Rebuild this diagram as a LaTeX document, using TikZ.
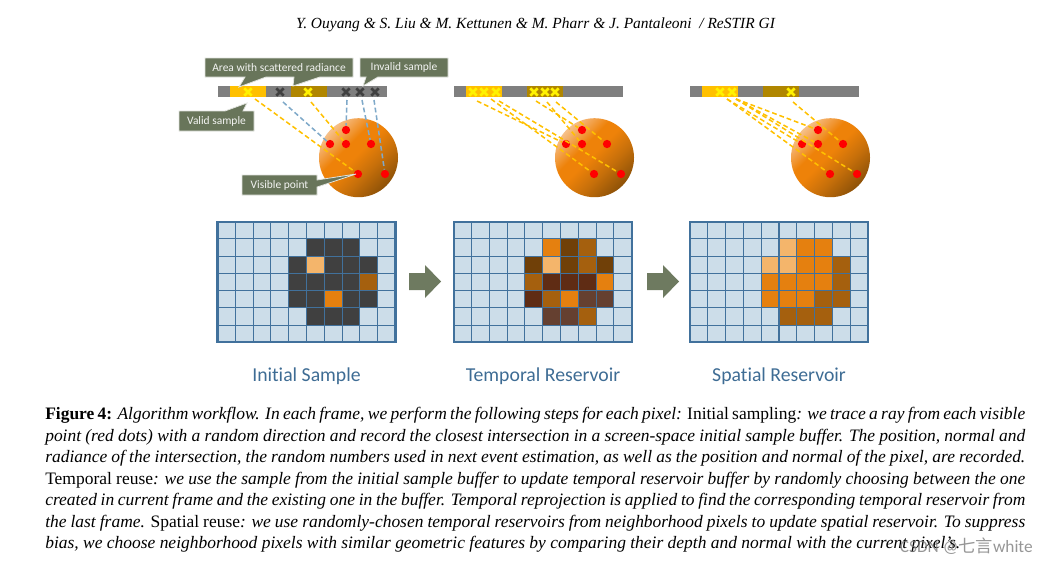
\documentclass[tikz,border=0pt]{standalone}
\usepackage{fontspec}
\setmainfont{Liberation Serif}
\newfontfamily\labelfont[Ligatures=NoCommon]{Carlito}
\newfontfamily\cjkfont{Noto Sans CJK SC}
\usetikzlibrary{shapes.misc}
\definecolor{calloutgreen}{RGB}{104,117,90}
\definecolor{arrowgreen}{RGB}{110,122,96}
\definecolor{barfill}{RGB}{127,127,127}
\definecolor{validgold}{RGB}{255,192,0}
\definecolor{scattergold}{RGB}{176,134,0}
\definecolor{raygold}{RGB}{255,192,0}
\definecolor{rayblue}{RGB}{127,169,201}
\definecolor{cellblue}{RGB}{204,221,233}
\definecolor{gridblue}{RGB}{65,113,156}
\definecolor{labelblue}{RGB}{62,108,148}
\definecolor{balllight}{RGB}{246,192,138}
\definecolor{ballmid}{RGB}{238,130,9}
\definecolor{ballshadow}{RGB}{200,112,10}
\definecolor{balldark}{RGB}{142,82,8}
\definecolor{cdark}{RGB}{64,64,64}
\definecolor{clight}{RGB}{244,181,107}
\definecolor{corange}{RGB}{229,128,15}
\definecolor{cbrown}{RGB}{165,96,14}
\definecolor{cumber}{RGB}{112,64,8}
\definecolor{cmaroon}{RGB}{95,44,20}
\definecolor{cmocha}{RGB}{101,64,48}
\pgfdeclareverticalshading{ballshade}{100bp}{color(0bp)=(balldark); color(25bp)=(balldark); color(40bp)=(ballshadow); color(52bp)=(ballmid); color(60bp)=(ballmid); color(75bp)=(balllight); color(100bp)=(balllight)}
\tikzset{
  calloutshape/.style={fill=calloutgreen,draw=white!80!calloutgreen,line width=0.6pt},
  callouttext/.style={inner sep=0pt,text=white!92!calloutgreen,font=\labelfont\fontsize{8.6}{10}\selectfont},
  reddot/.style={circle,fill=red,inner sep=0pt,minimum size=6.2pt},
  validcross/.style={cross out,draw=yellow,line width=1.9pt,inner sep=0pt,minimum size=3.6pt},
  invalidcross/.style={cross out,draw=cdark,line width=1.9pt,inner sep=0pt,minimum size=3.6pt},
  goldray/.style={draw=raygold,line width=1.15pt,dash pattern=on 3.6pt off 2.2pt},
  blueray/.style={draw=rayblue,line width=1.15pt,dash pattern=on 3.6pt off 2.2pt},
  panellabel/.style={inner sep=0pt,text=labelblue,font=\labelfont\fontsize{14.8}{16}\selectfont},
  captionline/.style={anchor=west,inner sep=0pt,font=\fontsize{13.1}{15}\selectfont},
}
\newcommand{\capline}[1]{\makebox[735pt][s]{#1}}
\begin{document}
\begin{tikzpicture}[x=0.75pt,y=0.75pt,yscale=-1,xscale=1]
	\useasboundingbox (0,0) rectangle (1048,564);

	% Text Node
	\node[inner sep=0pt,font=\itshape\fontsize{11.6}{13}\selectfont] (pagehead) at (535.5,25) {Y. Ouyang \& S. Liu \& M. Kettunen \& M. Pharr \& J. Pantaleoni \ / ReSTIR GI};

	% Balls and visible points
	\foreach \n/\dx in {a/0,b/236,c/472}{
		\begin{scope}[shift={(\dx,0)}]
			\shade[shading=ballshade,shading angle=45] (358.5,157.7) circle [radius=39.5];
			\node[reddot] (p\n1) at (346,130) {};
			\node[reddot] (p\n2) at (330,144) {};
			\node[reddot] (p\n3) at (346,144) {};
			\node[reddot] (p\n4) at (371,144) {};
			\node[reddot] (p\n5) at (358,174) {};
			\node[reddot] (p\n6) at (385,174) {};
			%Sample bar
			\fill[barfill] (218,86) rectangle (387,97);
		\end{scope}
	}

	%Bar areas
	\fill[validgold] (230,86) rectangle (266,97);
	\fill[scattergold] (291,86) rectangle (327,97);
	\fill[validgold] (466,86) rectangle (502,97);
	\fill[scattergold] (527,86) rectangle (563,97);
	\fill[validgold] (702,86) rectangle (738,97);
	\fill[scattergold] (763,86) rectangle (799,97);

	%Sample crosses
	\node[validcross] (xa1) at (248,92) {};
	\node[invalidcross] (xa2) at (280,92) {};
	\node[validcross] (xa3) at (308,92) {};
	\node[invalidcross] (xa4) at (346,92) {};
	\node[invalidcross] (xa5) at (360,92) {};
	\node[invalidcross] (xa6) at (375,92) {};
	\foreach \k/\cx in {1/473,2/484,3/496,4/534,5/545,6/555}
		\node[validcross] (xb\k) at (\cx,92) {};
	\foreach \k/\cx in {1/720,2/732,3/791}
		\node[validcross] (xc\k) at (\cx,92) {};

	%Ray starts
	\coordinate (ra1) at (255,99);
	\coordinate (ra2) at (283,102);
	\coordinate (ra3) at (311,102);
	\coordinate (ra4) at (347,100);
	\coordinate (ra5) at (362,100);
	\coordinate (ra6) at (374,100);
	\coordinate (rb1) at (477,101);
	\coordinate (rb2) at (491,99);
	\coordinate (rb3) at (499,101);
	\coordinate (rb4) at (536,101);
	\coordinate (rb5) at (547,102);
	\coordinate (rb6) at (556,102);
	\coordinate (rc1) at (727,99);
	\coordinate (rc2) at (736,99);
	\coordinate (rc3) at (793,102);

	%Rays, first panel
	\draw[goldray] (ra1) -- (pa5);
	\draw[blueray] (ra2) -- (pa2);
	\draw[goldray] (ra3) -- (pa3);
	\draw[blueray] (ra4) -- (pa1);
	\draw[blueray] (ra5) -- (pa4);
	\draw[blueray] (ra6) -- (pa6);
	%Rays, second panel
	\draw[goldray] (rb1) -- (pb2);
	\draw[goldray] (rb2) -- (pb5);
	\draw[goldray] (rb3) -- (pb6);
	\draw[goldray] (rb4) -- (pb1);
	\draw[goldray] (rb5) -- (pb3);
	\draw[goldray] (rb6) -- (pb4);
	%Rays, third panel
	\draw[goldray] (rc1) -- (pc2);
	\draw[goldray] (rc1) -- (pc5);
	\draw[goldray] (rc2) -- (pc1);
	\draw[goldray] (rc2) -- (pc3);
	\draw[goldray] (rc2) -- (pc6);
	\draw[goldray] (rc3) -- (pc4);

	%Callouts
	\draw[calloutshape] (205,58) -- (353,58) -- (353,77) -- (320,77) -- (293,86) -- (294,77) -- (266,77) -- (239,87) -- (245,77) -- (205,77) -- cycle;
	\node[callouttext] (areabox) at (279,67.5) {Area with scattered radiance};
	\draw[calloutshape] (360,58) -- (448,58) -- (448,77) -- (378,77) -- (363,86) -- (366,77) -- (360,77) -- cycle;
	\node[callouttext] (invalidbox) at (404,67.5) {Invalid sample};
	\draw[calloutshape] (179,111) -- (225,111) -- (247,103) -- (243,111) -- (254,111) -- (254,131) -- (179,131) -- cycle;
	\node[callouttext] (validbox) at (216.5,121) {Valid sample};
	\draw[calloutshape] (242,175) -- (317,175) -- (317,180) -- (356,174) -- (317,187) -- (317,195) -- (242,195) -- cycle;
	\node[callouttext] (visiblebox) at (279.5,185) {Visible point};

	% Pixel grids
	\foreach \dx/\cells in {
		217.5/{5/1/cdark,6/1/cdark,7/1/cdark,4/2/cdark,5/2/clight,6/2/cdark,7/2/cdark,8/2/cdark,4/3/cdark,5/3/cdark,6/3/cdark,7/3/cdark,8/3/cbrown,4/4/cdark,5/4/cdark,6/4/corange,7/4/cdark,8/4/cdark,5/5/cdark,6/5/cdark,7/5/cdark},
		453.7/{5/1/corange,6/1/cumber,7/1/cbrown,4/2/cumber,5/2/clight,6/2/cumber,7/2/cbrown,8/2/cumber,4/3/cbrown,5/3/cmaroon,6/3/cmaroon,7/3/cmaroon,8/3/corange,4/4/cmaroon,5/4/cbrown,6/4/corange,7/4/cmocha,8/4/cmocha,5/5/cmocha,6/5/cmocha,7/5/cbrown},
		690/{5/1/clight,6/1/corange,7/1/corange,4/2/clight,5/2/clight,6/2/corange,7/2/corange,8/2/cbrown,4/3/corange,5/3/corange,6/3/corange,7/3/corange,8/3/cbrown,4/4/corange,5/4/corange,6/4/corange,7/4/cbrown,8/4/cbrown,5/5/cbrown,6/5/cbrown,7/5/cbrown}}{
		\begin{scope}[shift={(\dx,221.7)}]
			\fill[cellblue] (0,0) rectangle (178,120.6);
			\foreach \c/\r/\k in \cells
				\fill[\k] ({17.8*\c},{17.23*\r}) rectangle +(17.8,17.23);
			\foreach \c in {1,...,9}
				\draw[gridblue,line width=0.8pt] ({17.8*\c},0) -- ({17.8*\c},120.6);
			\foreach \r in {1,...,6}
				\draw[gridblue,line width=0.8pt] (0,{17.23*\r}) -- (178,{17.23*\r});
			\draw[gridblue,line width=1.6pt] (0,0) rectangle (178,120.6);
		\end{scope}
	}

	%Arrows between grids
	\fill[arrowgreen] (409,273) -- (425,273) -- (425,265) -- (441,281.5) -- (425,298) -- (425,290) -- (409,290) -- cycle;
	\fill[arrowgreen] (647,273) -- (663,273) -- (663,265) -- (679,281.5) -- (663,298) -- (663,290) -- (647,290) -- cycle;

	% Text Node
	\node[panellabel] (initiallabel) at (306.5,376) {Initial Sample};
	\node[panellabel] (temporallabel) at (543,376) {Temporal Reservoir};
	\node[panellabel] (spatiallabel) at (779,376) {Spatial Reservoir};

	% Caption lines
	\node[captionline] (cap1) at (45,415.5) {\capline{\textbf{Figure 4:} \textit{Algorithm workflow. In each frame, we perform the following steps for each pixel:} Initial sampling\textit{: we trace a ray from each visible}}};
	\node[captionline] (cap2) at (45,437) {\capline{\textit{point (red dots) with a random direction and record the closest intersection in a screen-space initial sample buffer. The position, normal and}}};
	\node[captionline] (cap3) at (45,458.5) {\capline{\textit{radiance of the intersection, the random numbers used in next event estimation, as well as the position and normal of the pixel, are recorded.}}};
	\node[captionline] (cap4) at (45,480) {\capline{Temporal reuse\textit{: we use the sample from the initial sample buffer to update temporal reservoir buffer by randomly choosing between the one}}};
	\node[captionline] (cap5) at (45,501.5) {\capline{\textit{created in current frame and the existing one in the buffer. Temporal reprojection is applied to find the corresponding temporal reservoir from}}};
	\node[captionline] (cap6) at (45,523) {\capline{\textit{the last frame.} Spatial reuse\textit{: we use randomly-chosen temporal reservoirs from neighborhood pixels to update spatial reservoir. To suppress}}};
	\node[captionline] (cap7) at (45,544.5) {\textit{bias, we choose neighborhood pixels with similar geometric features by comparing their depth and normal with the current pixel's.}};

	% Watermark
	\node[anchor=east,inner sep=0pt,text=black!55,opacity=0.75,font=\labelfont\fontsize{13}{15}\selectfont] (watermark) at (1033,546) {CSDN @{\cjkfont 七言}white};
\end{tikzpicture}
\end{document}
